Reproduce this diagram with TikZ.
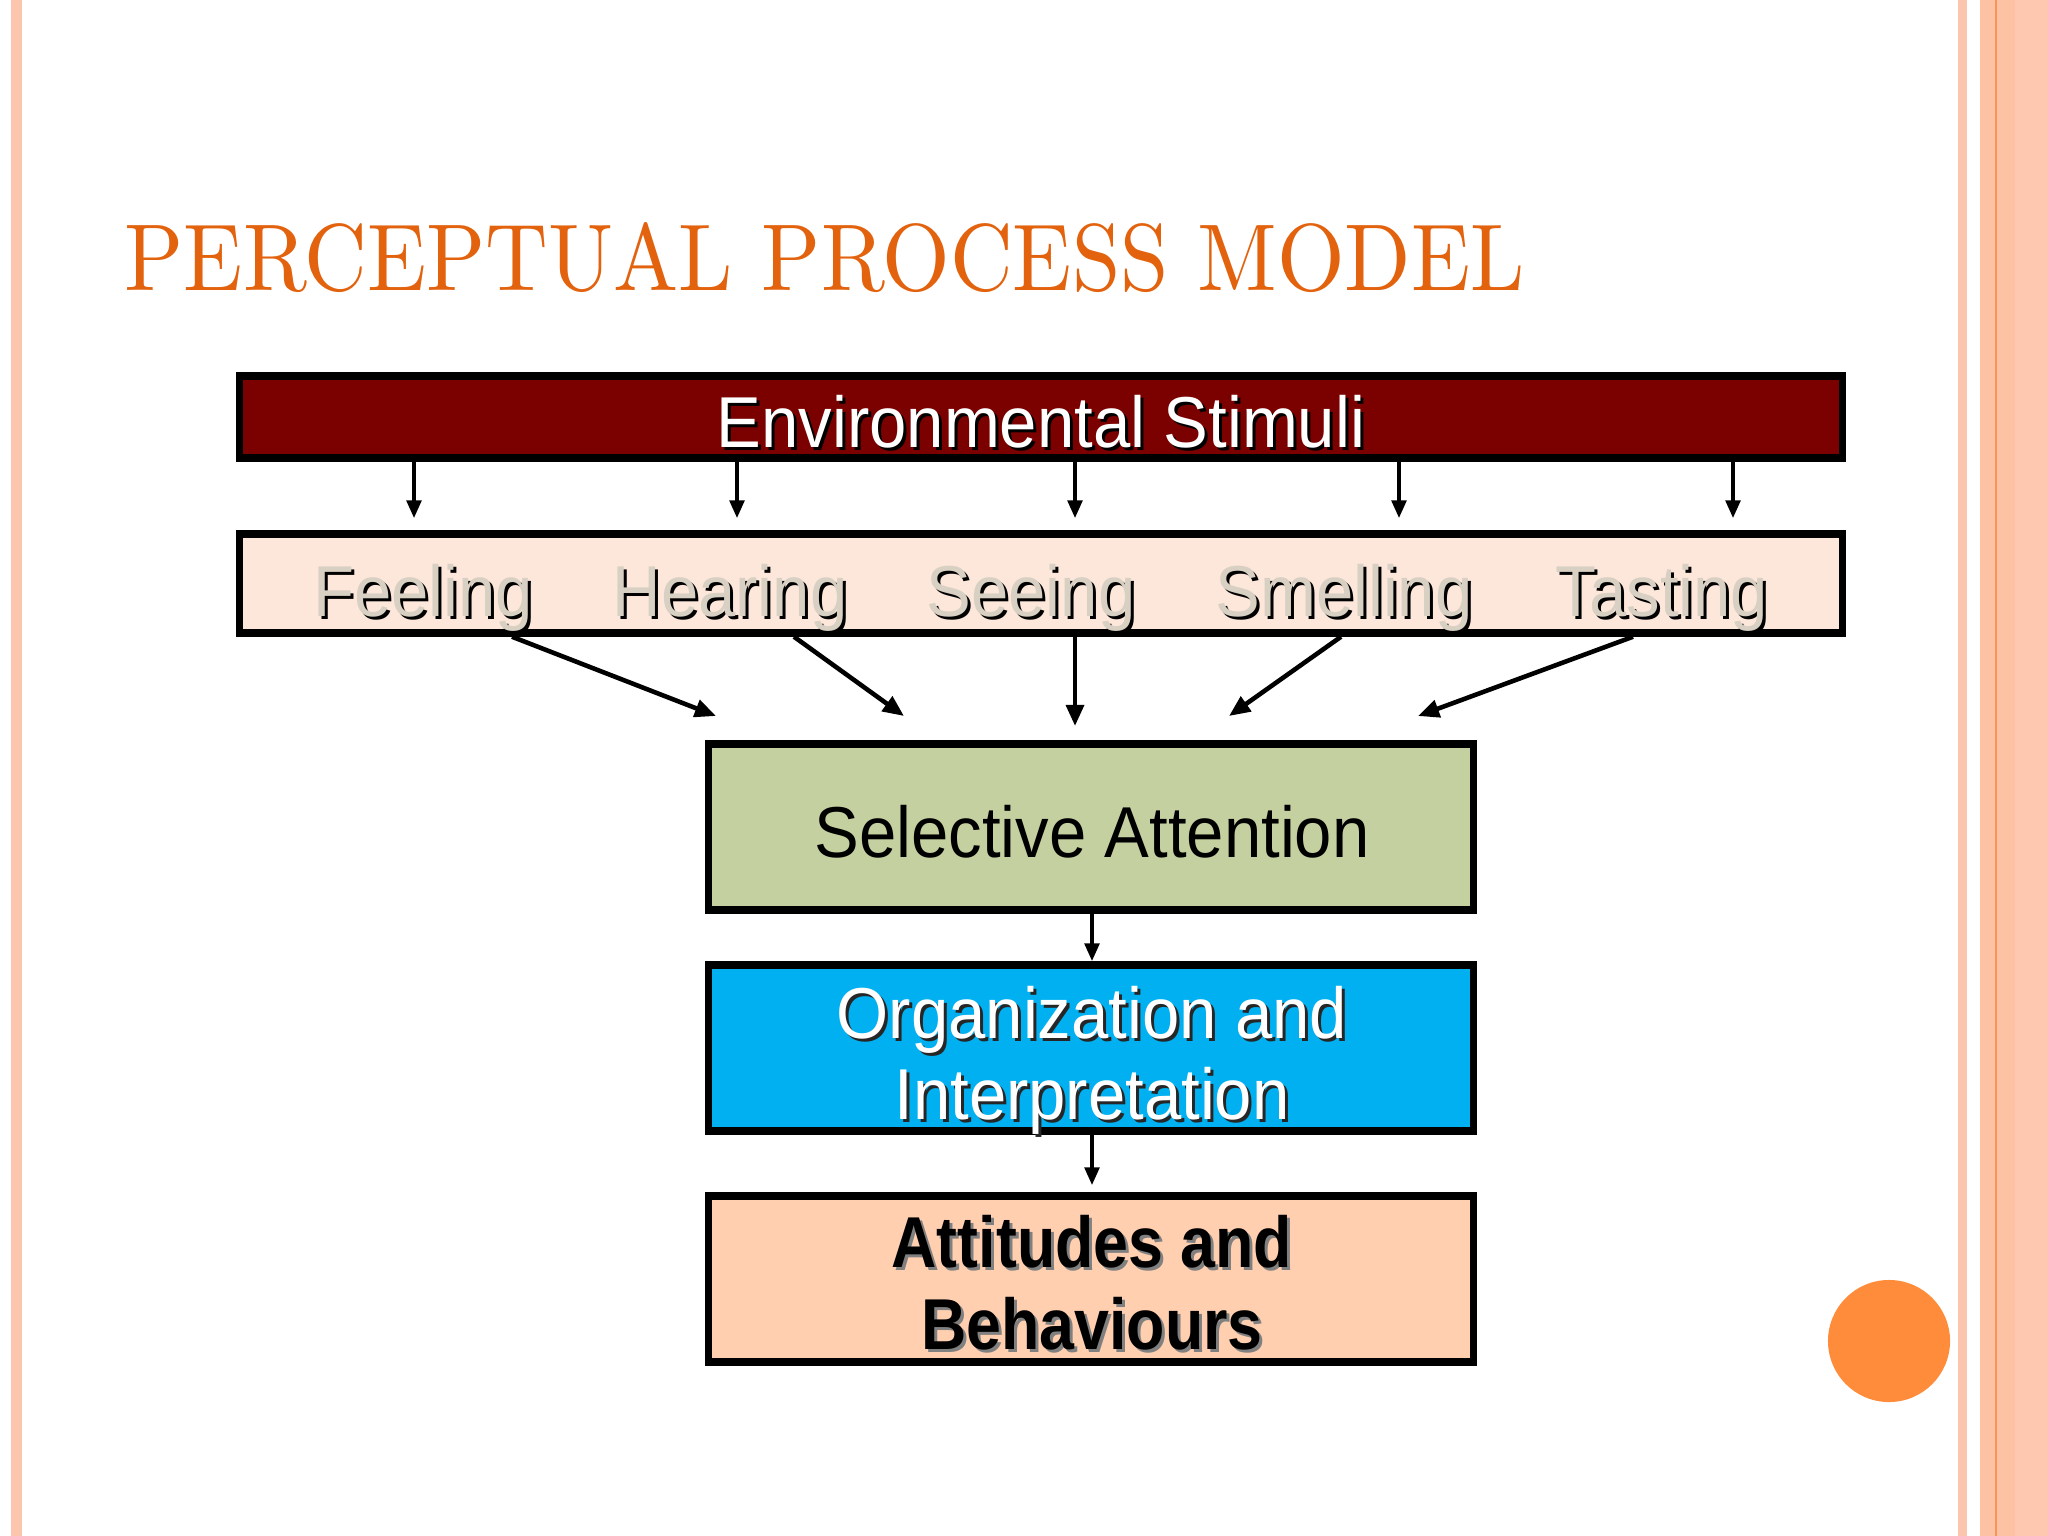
\documentclass[tikz,border=0pt]{standalone}
\usepackage{fontspec}
\usetikzlibrary{arrows.meta}
\newfontfamily\arialn[FakeStretch=0.93]{Liberation Sans}
\newfontfamily\arialbn[FakeStretch=0.87]{Liberation Sans}
\newfontfamily\lmten{lmroman10-regular.otf}
\definecolor{envred}{HTML}{7B0000}
\definecolor{sensefill}{HTML}{FDE6DA}
\definecolor{sensetext}{HTML}{D8D0C3}
\definecolor{selfill}{HTML}{C4D09F}
\definecolor{orgfill}{HTML}{00B0F0}
\definecolor{attfill}{HTML}{FFCFB0}
\definecolor{titleor}{HTML}{E2620E}
\definecolor{stripe}{HTML}{FCC6AE}
\definecolor{stripeb}{HTML}{FDC8AF}
\definecolor{stripeline}{HTML}{F0803C}
\definecolor{dotor}{HTML}{FF8C3A}
\begin{document}
\begin{tikzpicture}[x=0.01cm,y=-0.01cm,
  box/.style={draw=black, line width=2.1pt, inner sep=0pt},
  wide/.style={box, minimum width=16.02cm},
  mid/.style={box, minimum width=7.64cm, minimum height=1.66cm},
  txt/.style={font=\arialn\fontsize{20.5pt}{23pt}\selectfont, anchor=base, inner sep=0pt},
  btxt/.style={font=\arialbn\bfseries\fontsize{20.5pt}{23pt}\selectfont, anchor=base, inner sep=0pt},
  thinarrow/.style={line width=0.9pt, -{Triangle[length=5pt,width=4.2pt]}},
  convarrow/.style={line width=1.3pt, -{Triangle[length=6pt,width=5pt]}}]
\fill[white] (0,0) rectangle (2048,1536);
\useasboundingbox (0,0) rectangle (2048,1536);
% decorative stripes
\fill[stripe] (11,0) rectangle (22,1536);
\fill[stripe] (1958,0) rectangle (1967,1536);
\fill[stripeb] (1980,0) rectangle (2048,1536);
\fill[stripe!94!orange] (1980,0) rectangle (2015,1536);
\fill[stripeline!70!stripe] (1995,0) rectangle (1997,1536);
\node[circle, fill=dotor, minimum size=1.22cm, inner sep=0pt] (dot) at (1889,1341) {};
% title
\node[anchor=base west, inner sep=0pt, text=titleor, font=\lmten\fontsize{27pt}{30pt}\selectfont] (title) at (124,290) {\scalebox{0.915}[1]{PERCEPTUAL PROCESS MODEL}};
% arrow end points
\coordinate (a1) at (414,518);
\coordinate (a2) at (737,518);
\coordinate (a3) at (1075,518);
\coordinate (a4) at (1399,518);
\coordinate (a5) at (1733,518);
\coordinate (s1) at (512,0);
\coordinate (s2) at (794,0);
\coordinate (s3) at (1075,0);
\coordinate (s4) at (1341,0);
\coordinate (s5) at (1633,0);
\coordinate (e1) at (716,716);
\coordinate (e2) at (904,716);
\coordinate (e3) at (1075,726);
\coordinate (e4) at (1229,716);
\coordinate (e5) at (1418,716);
\coordinate (m1) at (1092,961);
\coordinate (m2) at (1092,1185);
% boxes
\node[wide, fill=envred, minimum height=0.82cm] (env) at (1041,417) {};
\node[wide, fill=sensefill, minimum height=0.99cm] (senses) at (1041,583.5) {};
\node[mid, fill=selfill] (sel) at (1091,827) {};
\node[mid, fill=orgfill] (org) at (1091,1048) {};
\node[mid, fill=attfill] (att) at (1091,1279) {};
% connectors
\foreach \i in {1,...,5} {
  \draw[thinarrow] (env.south -| a\i) -- (a\i);
  \draw[convarrow] (senses.south -| s\i) -- (e\i);
}
\draw[thinarrow] (sel.south -| m1) -- (m1);
\draw[thinarrow] (org.south -| m2) -- (m2);
% texts
\node[txt, text=black] (envs) at (1044,450) {Environmental Stimuli};
\node[txt, text=white] (envt) at (1041,447) {Environmental Stimuli};
\foreach \x/\w/\n in {423/Feeling/f, 730/Hearing/h, 1031/Seeing/s, 1344/Smelling/m, 1662/Tasting/t} {
  \node[txt, text=black] (sh\n) at (\x+3,619) {\w};
  \node[txt, text=sensetext] (st\n) at (\x,616) {\w};
}
\node[txt, text=black] (selt) at (1092,857) {Selective Attention};
\node[txt, text=black!85] (orgs1) at (1095,1041) {Organization and};
\node[txt, text=black!85] (orgs2) at (1095,1122) {Interpretation};
\node[txt, text=white] (orgt1) at (1092,1038) {Organization and};
\node[txt, text=white] (orgt2) at (1092,1119) {Interpretation};
\node[btxt, text=black!50] (atts1) at (1095,1270) {Attitudes and};
\node[btxt, text=black!50] (atts2) at (1095,1352) {Behaviours};
\node[btxt, text=black] (attt1) at (1092,1267) {Attitudes and};
\node[btxt, text=black] (attt2) at (1092,1349) {Behaviours};
\end{tikzpicture}
\end{document}
